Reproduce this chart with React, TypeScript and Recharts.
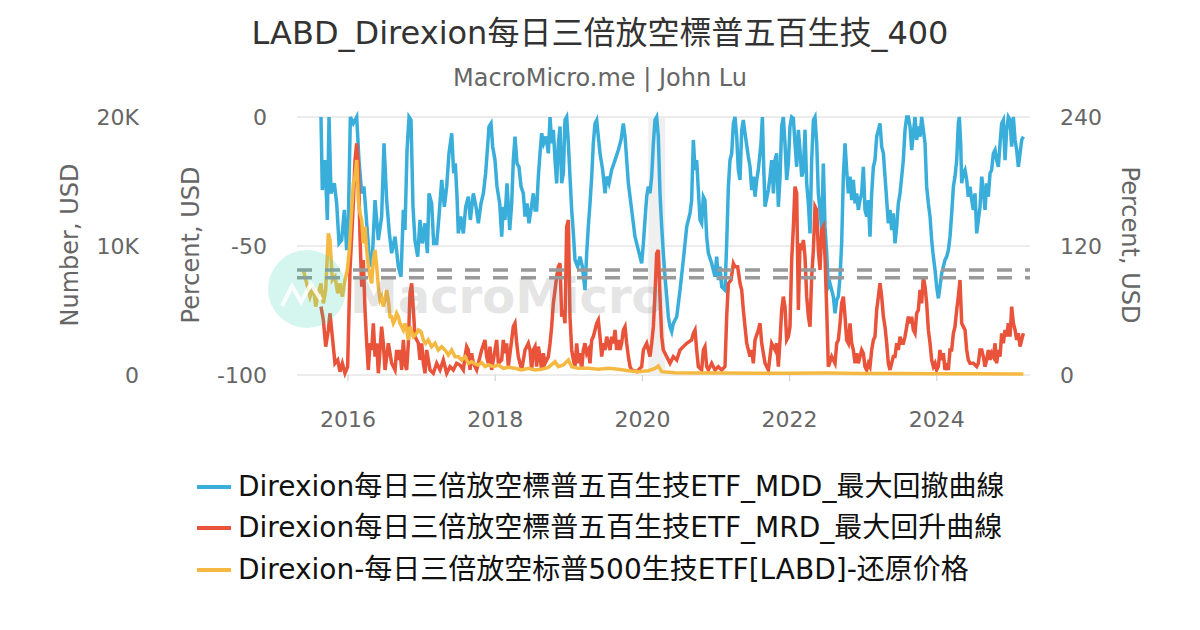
import { LineChart, Line, XAxis, YAxis, CartesianGrid, ReferenceLine, ReferenceArea } from "recharts"

const FONT = '"DejaVu Sans", "Noto Sans CJK TC", sans-serif'

const TITLE = "LABD_Direxion每日三倍放空標普五百生技_400"
const SUBTITLE = "MacroMicro.me | John Lu"

const seriesNames = [
  "Direxion每日三倍放空標普五百生技ETF_MDD_最大回撤曲線",
  "Direxion每日三倍放空標普五百生技ETF_MRD_最大回升曲線",
  "Direxion-每日三倍放空标普500生技ETF[LABD]-还原价格",
]
const seriesColors = ["#3aaedb", "#e8533a", "#f5b942"]

const yearTicks = [2016, 2018, 2020, 2022, 2024]
const pctTicks = [-100, -50, 0]
const numberTicks = [0, 10000, 20000]
const rightTicks = [0, 120, 240]
const thresholds = [-59.3, -62.3]
const recession = [2020.08, 2020.31]

// axis ids: left axes are stacked in id order, "l1" next to the plot
const PCT = "l1"
const NUM = "l2"
const RIGHT = "r1"

// [year, value] — max drawdown, %
const mddPoints: [number, number][] = [
  [2015.633, 0], [2015.651, -28.3], [2015.688, -16.7], [2015.719, -39.9], [2015.742, 0], [2015.769, -29.6],
  [2015.814, -25.7], [2015.846, -33.5], [2015.878, -49.0], [2015.914, -47.7], [2015.95, -36.0], [2015.982, -51.6],
  [2016.005, -39.9], [2016.032, 0], [2016.072, -2.5], [2016.118, 0], [2016.149, -16.7], [2016.186, -29.6],
  [2016.217, -27.0], [2016.254, -41.2], [2016.299, -58.0], [2016.331, -54.1], [2016.367, -32.2], [2016.412, -47.7],
  [2016.457, -38.6], [2016.489, -10.2], [2016.525, -32.2], [2016.562, -45.1], [2016.593, -52.8], [2016.639, -46.4],
  [2016.684, -58.0], [2016.72, -61.9], [2016.752, -36.0], [2016.774, -43.8], [2016.802, -12.8], [2016.829, 0],
  [2016.856, -1.2], [2016.883, -34.8], [2016.91, -48.0], [2016.947, -54.1], [2016.978, -39.9], [2017.01, -49.0],
  [2017.046, -41.2], [2017.078, -52.8], [2017.101, -29.6], [2017.137, -33.5], [2017.164, -49.0], [2017.205, -49.0],
  [2017.236, -38.6], [2017.273, -24.4], [2017.309, -34.8], [2017.341, -27.0], [2017.372, -14.1], [2017.409, -6.3],
  [2017.436, -21.8], [2017.458, -18.0], [2017.481, -30.9], [2017.499, -45.1], [2017.531, -38.6], [2017.567, -45.1],
  [2017.599, -34.8], [2017.635, -30.9], [2017.662, -39.9], [2017.703, -29.6], [2017.739, -34.8], [2017.771, -41.2],
  [2017.807, -33.5], [2017.839, -29.6], [2017.87, -21.8], [2017.893, -12.8], [2017.916, -3.7], [2017.943, -2.5],
  [2017.966, -11.5], [2017.997, -16.7], [2018.024, -27.0], [2018.061, -33.5], [2018.088, -46.4], [2018.11, -34.8],
  [2018.133, -39.9], [2018.16, -25.7], [2018.197, -43.8], [2018.224, -33.5], [2018.246, -16.7], [2018.269, -7.6],
  [2018.296, -18.0], [2018.323, -19.3], [2018.351, -27.0], [2018.382, -29.6], [2018.405, -38.6], [2018.432, -33.5],
  [2018.459, -41.2], [2018.486, -36.0], [2018.518, -29.6], [2018.541, -36.0], [2018.563, -36.0], [2018.586, -23.1],
  [2018.609, -14.1], [2018.631, -6.3], [2018.658, -10.2], [2018.69, -7.6], [2018.722, -14.1], [2018.745, 0],
  [2018.767, -10.2], [2018.79, -5.0], [2018.813, -16.7], [2018.835, -25.7], [2018.858, -10.2], [2018.881, -3.7],
  [2018.903, -25.7], [2018.926, -21.8], [2018.948, -1.2], [2018.971, 0], [2018.994, -10.2], [2019.016, -23.1],
  [2019.039, -36.0], [2019.062, -45.1], [2019.084, -55.4], [2019.12, -58.0], [2019.152, -54.1], [2019.184, -58.0],
  [2019.22, -67.1], [2019.243, -52.8], [2019.265, -42.5], [2019.288, -33.5], [2019.311, -23.1], [2019.333, -10.2],
  [2019.356, -2.5], [2019.379, -1.2], [2019.401, -7.6], [2019.424, -14.1], [2019.46, -20.5], [2019.492, -29.6],
  [2019.515, -23.1], [2019.546, -25.7], [2019.582, -20.5], [2019.628, -16.7], [2019.673, -12.8], [2019.709, -8.9],
  [2019.741, -2.5], [2019.764, -7.6], [2019.809, -25.7], [2019.854, -36.0], [2019.899, -46.4], [2019.945, -51.6],
  [2019.99, -56.7], [2020.013, -49.0], [2020.035, -39.9], [2020.058, -30.9], [2020.081, -27.0], [2020.103, -29.6],
  [2020.126, -23.1], [2020.149, -10.2], [2020.171, -1.2], [2020.194, 0], [2020.216, -7.6], [2020.239, -29.6],
  [2020.262, -42.5], [2020.284, -52.8], [2020.307, -61.9], [2020.33, -69.6], [2020.352, -77.4], [2020.375, -81.3],
  [2020.398, -83.2], [2020.42, -80.0], [2020.466, -77.4], [2020.511, -67.1], [2020.556, -55.4], [2020.602, -42.5],
  [2020.647, -37.3], [2020.669, -32.2], [2020.692, -8.9], [2020.715, -20.5], [2020.737, -16.7], [2020.76, -28.3],
  [2020.783, -39.9], [2020.805, -41.2], [2020.828, -30.9], [2020.85, -32.2], [2020.873, -46.4], [2020.896, -52.8],
  [2020.941, -56.7], [2020.986, -61.9], [2021.009, -54.1], [2021.032, -63.2], [2021.054, -58.0], [2021.077, -65.8],
  [2021.122, -67.1], [2021.145, -49.0], [2021.168, -27.0], [2021.19, -16.7], [2021.213, -14.1], [2021.236, -2.5],
  [2021.258, 0], [2021.281, -7.6], [2021.303, -20.5], [2021.326, -24.4], [2021.349, -5.0], [2021.371, -1.2],
  [2021.394, -6.3], [2021.439, -15.4], [2021.462, -19.3], [2021.485, -28.3], [2021.507, -23.1], [2021.53, -30.9],
  [2021.553, -24.4], [2021.575, -20.5], [2021.611, -10.2], [2021.63, 0], [2021.648, -19.3], [2021.666, -34.8],
  [2021.711, -28.3], [2021.734, -23.1], [2021.756, -16.7], [2021.78, -29.6], [2021.802, -16.7], [2021.824, -14.1],
  [2021.847, -34.8], [2021.87, -23.1], [2021.892, -3.7], [2021.915, 0], [2021.937, -10.2], [2021.96, -24.4],
  [2021.983, -18.0], [2022.005, -3.7], [2022.028, 0], [2022.051, -0.5], [2022.073, -10.2], [2022.096, -19.3],
  [2022.119, -5.0], [2022.141, -12.8], [2022.164, -23.1], [2022.187, -20.5], [2022.209, -5.0], [2022.232, -25.7],
  [2022.255, -33.5], [2022.277, -45.1], [2022.3, -16.7], [2022.323, -1.2], [2022.345, 0], [2022.368, -10.2],
  [2022.39, -29.6], [2022.413, -36.0], [2022.436, -43.8], [2022.458, -18.0], [2022.481, -42.5], [2022.504, -52.8],
  [2022.526, -65.8], [2022.549, -64.5], [2022.572, -67.1], [2022.594, -69.6], [2022.617, -76.1], [2022.64, -70.9],
  [2022.662, -69.6], [2022.685, -61.9], [2022.707, -49.0], [2022.73, -23.1], [2022.753, -10.2], [2022.775, -20.5],
  [2022.798, -29.6], [2022.821, -23.1], [2022.843, -32.2], [2022.866, -24.4], [2022.889, -33.5], [2022.911, -29.6],
  [2022.934, -36.0], [2022.956, -32.2], [2022.979, -29.6], [2023.002, -19.3], [2023.024, -36.0], [2023.047, -38.6],
  [2023.07, -32.2], [2023.092, -46.4], [2023.115, -29.6], [2023.138, -19.3], [2023.16, -16.7], [2023.183, -7.6],
  [2023.206, -5.0], [2023.228, -2.5], [2023.251, -11.5], [2023.274, -14.1], [2023.296, -23.1], [2023.319, -32.2],
  [2023.341, -41.2], [2023.364, -36.0], [2023.387, -43.8], [2023.409, -37.3], [2023.432, -49.0], [2023.455, -42.5],
  [2023.477, -33.5], [2023.5, -29.6], [2023.523, -23.1], [2023.545, -16.7], [2023.568, -5.0], [2023.591, 0],
  [2023.613, 0], [2023.636, -3.7], [2023.659, -12.8], [2023.681, -6.3], [2023.704, 0], [2023.726, -8.9],
  [2023.749, -3.7], [2023.772, -7.6], [2023.794, 0], [2023.817, -5.0], [2023.84, -10.2], [2023.862, -27.0],
  [2023.885, -33.5], [2023.908, -38.6], [2023.93, -47.7], [2023.953, -54.1], [2023.976, -59.3], [2023.998, -65.8],
  [2024.021, -70.3], [2024.043, -65.8], [2024.066, -60.6], [2024.089, -58.0], [2024.111, -55.4], [2024.134, -54.1],
  [2024.157, -51.6], [2024.179, -46.4], [2024.202, -37.5], [2024.225, -27.0], [2024.247, -23.1], [2024.27, -16.7],
  [2024.292, -2.5], [2024.306, 0], [2024.324, -10.2], [2024.338, -25.7], [2024.36, -21.8], [2024.383, -20.5],
  [2024.406, -24.4], [2024.428, -30.9], [2024.451, -27.0], [2024.474, -32.2], [2024.496, -36.0], [2024.519, -29.6],
  [2024.542, -45.1], [2024.564, -39.9], [2024.587, -34.8], [2024.61, -23.1], [2024.632, -28.3], [2024.655, -36.0],
  [2024.677, -25.7], [2024.7, -30.9], [2024.723, -21.8], [2024.745, -20.5], [2024.768, -14.1], [2024.791, -12.8],
  [2024.813, -16.7], [2024.836, -19.3], [2024.859, -10.2], [2024.881, -2.5], [2024.904, -1.2], [2024.927, -16.7],
  [2024.949, -5.0], [2024.972, 0], [2024.995, -1.2], [2025.017, -11.5], [2025.04, 0], [2025.063, -8.9],
  [2025.085, -12.8], [2025.108, -19.3], [2025.131, -14.1], [2025.153, -8.9], [2025.176, -7.6],
]

// [year, value] — max run-up, %
const mrdPoints: [number, number][] = [
  [2015.633, 63.6], [2015.665, 51.2], [2015.697, 26.4], [2015.733, 41.9], [2015.755, 57.4], [2015.787, 35.7],
  [2015.823, 10.9], [2015.86, 14.0], [2015.891, 3.1], [2015.923, 10.9], [2015.959, 1.6], [2015.995, 7.8],
  [2016.027, 97.7], [2016.05, 128.7], [2016.072, 159.7], [2016.095, 200.0], [2016.118, 215.5], [2016.14, 196.9],
  [2016.163, 128.7], [2016.186, 82.2], [2016.208, 107.0], [2016.231, 60.5], [2016.254, 29.5], [2016.276, 4.7],
  [2016.299, 29.5], [2016.322, 23.3], [2016.344, 48.1], [2016.367, 17.1], [2016.39, 29.5], [2016.412, 1.6],
  [2016.435, 23.3], [2016.457, 45.0], [2016.48, 29.5], [2016.503, 4.7], [2016.548, 29.5], [2016.593, 10.9],
  [2016.639, 4.7], [2016.661, 23.3], [2016.684, 14.0], [2016.707, 23.3], [2016.729, 4.7], [2016.752, 32.6],
  [2016.774, 10.9], [2016.797, 4.7], [2016.82, 29.5], [2016.842, 76.0], [2016.865, 85.3], [2016.888, 60.5],
  [2016.91, 35.7], [2016.956, 29.5], [2016.978, 14.0], [2017.001, 29.5], [2017.024, 10.9], [2017.046, 1.6],
  [2017.069, 23.3], [2017.114, 4.7], [2017.159, 1.6], [2017.205, 10.9], [2017.25, 4.7], [2017.295, 14.0],
  [2017.341, 1.6], [2017.386, 7.8], [2017.431, 4.7], [2017.476, 10.9], [2017.522, 9.3], [2017.567, 4.7],
  [2017.59, 17.1], [2017.612, 26.4], [2017.635, 23.3], [2017.658, 4.7], [2017.68, 20.2], [2017.703, 10.9],
  [2017.748, 4.7], [2017.793, 17.1], [2017.816, 23.3], [2017.861, 32.6], [2017.884, 17.1], [2017.907, 10.9],
  [2017.929, 26.4], [2017.952, 4.7], [2017.997, 23.3], [2018.02, 32.6], [2018.043, 10.9], [2018.088, 14.0],
  [2018.11, 32.6], [2018.133, 20.2], [2018.156, 29.5], [2018.178, 7.8], [2018.224, 32.6], [2018.246, 45.0],
  [2018.269, 48.1], [2018.292, 29.5], [2018.314, 17.1], [2018.36, 4.7], [2018.405, 23.3], [2018.45, 29.5],
  [2018.473, 23.3], [2018.495, 4.7], [2018.518, 23.3], [2018.541, 26.4], [2018.563, 7.8], [2018.586, 26.4],
  [2018.609, 17.1], [2018.631, 4.7], [2018.654, 20.2], [2018.677, 10.9], [2018.722, 17.1], [2018.745, 29.5],
  [2018.767, 45.0], [2018.79, 66.7], [2018.813, 79.1], [2018.835, 91.5], [2018.858, 100.8], [2018.881, 103.9],
  [2018.903, 54.3], [2018.926, 60.5], [2018.948, 48.1], [2018.971, 138.0], [2018.994, 144.2], [2019.016, 54.3],
  [2019.039, 23.3], [2019.062, 14.0], [2019.084, 7.8], [2019.107, 29.5], [2019.13, 10.9], [2019.152, 20.2],
  [2019.175, 4.7], [2019.197, 23.3], [2019.22, 29.5], [2019.243, 20.2], [2019.265, 23.3], [2019.288, 10.9],
  [2019.311, 32.6], [2019.333, 35.7], [2019.356, 41.9], [2019.379, 48.1], [2019.401, 51.2], [2019.424, 35.7],
  [2019.447, 17.1], [2019.469, 29.5], [2019.492, 23.3], [2019.515, 35.7], [2019.537, 29.5], [2019.56, 23.3],
  [2019.582, 35.7], [2019.605, 29.5], [2019.628, 41.9], [2019.65, 23.3], [2019.673, 32.6], [2019.696, 23.3],
  [2019.718, 29.5], [2019.741, 41.9], [2019.764, 45.0], [2019.786, 29.5], [2019.809, 17.1], [2019.832, 7.8],
  [2019.854, 4.7], [2019.922, 3.1], [2019.99, 7.8], [2020.013, 23.3], [2020.058, 29.5], [2020.103, 17.1],
  [2020.126, 29.5], [2020.149, 45.0], [2020.171, 76.0], [2020.194, 113.0], [2020.216, 116.3], [2020.239, 72.9],
  [2020.262, 35.7], [2020.284, 23.3], [2020.33, 17.1], [2020.375, 10.9], [2020.42, 17.1], [2020.466, 14.0],
  [2020.511, 23.3], [2020.556, 26.4], [2020.602, 29.5], [2020.669, 32.6], [2020.692, 38.8], [2020.715, 41.9],
  [2020.737, 23.3], [2020.76, 7.8], [2020.805, 4.7], [2020.828, 23.3], [2020.85, 26.4], [2020.873, 7.8],
  [2020.896, 4.7], [2020.941, 10.9], [2020.986, 4.7], [2021.032, 7.8], [2021.077, 4.7], [2021.122, 7.8],
  [2021.145, 54.3], [2021.168, 85.3], [2021.204, 88.4], [2021.236, 103.9], [2021.258, 100.8], [2021.294, 100.8],
  [2021.326, 85.3], [2021.349, 79.1], [2021.371, 60.5], [2021.394, 45.0], [2021.417, 29.5], [2021.462, 17.1],
  [2021.485, 23.3], [2021.507, 10.9], [2021.53, 32.6], [2021.575, 41.9], [2021.598, 48.1], [2021.621, 29.5],
  [2021.666, 10.9], [2021.711, 4.7], [2021.756, 29.5], [2021.802, 23.3], [2021.824, 29.5], [2021.847, 7.8],
  [2021.87, 32.6], [2021.892, 60.5], [2021.915, 72.9], [2021.937, 63.6], [2021.96, 32.6], [2021.983, 35.7],
  [2022.005, 45.0], [2022.028, 107.0], [2022.051, 138.0], [2022.073, 175.2], [2022.096, 169.0], [2022.119, 60.5],
  [2022.141, 122.5], [2022.164, 116.3], [2022.187, 125.6], [2022.209, 110.1], [2022.232, 72.9], [2022.255, 54.3],
  [2022.277, 45.0], [2022.3, 91.5], [2022.323, 116.3], [2022.345, 156.6], [2022.368, 153.5], [2022.39, 116.3],
  [2022.413, 97.7], [2022.436, 134.9], [2022.458, 138.0], [2022.481, 110.1], [2022.504, 60.5], [2022.526, 7.8],
  [2022.572, 17.1], [2022.617, 10.9], [2022.64, 29.5], [2022.662, 32.6], [2022.685, 48.1], [2022.707, 66.7],
  [2022.73, 72.9], [2022.753, 54.3], [2022.775, 32.6], [2022.798, 29.5], [2022.821, 48.1], [2022.843, 29.5],
  [2022.866, 23.3], [2022.889, 10.9], [2022.911, 20.2], [2022.934, 10.9], [2022.956, 17.1], [2022.979, 23.3],
  [2023.002, 20.2], [2023.024, 7.8], [2023.047, 4.7], [2023.07, 10.9], [2023.092, 7.8], [2023.115, 23.3],
  [2023.138, 32.6], [2023.16, 35.7], [2023.183, 60.5], [2023.206, 72.9], [2023.228, 85.3], [2023.251, 72.9],
  [2023.274, 54.3], [2023.296, 45.0], [2023.319, 29.5], [2023.341, 10.9], [2023.364, 4.7], [2023.409, 17.1],
  [2023.432, 17.1], [2023.455, 29.5], [2023.477, 23.3], [2023.5, 35.7], [2023.523, 29.5], [2023.545, 29.5],
  [2023.568, 35.7], [2023.591, 45.0], [2023.613, 54.3], [2023.636, 48.1], [2023.659, 54.3], [2023.681, 41.9],
  [2023.704, 38.8], [2023.726, 57.4], [2023.749, 60.5], [2023.772, 79.1], [2023.794, 66.7], [2023.817, 91.5],
  [2023.84, 82.2], [2023.862, 66.7], [2023.885, 41.9], [2023.908, 29.5], [2023.93, 14.0], [2023.953, 7.8],
  [2023.976, 10.9], [2023.998, 4.7], [2024.021, 7.8], [2024.043, 23.3], [2024.066, 14.0], [2024.089, 20.2],
  [2024.111, 4.7], [2024.134, 10.9], [2024.157, 4.7], [2024.179, 23.3], [2024.202, 23.3], [2024.225, 38.8],
  [2024.247, 45.0], [2024.27, 60.5], [2024.292, 72.9], [2024.315, 88.4], [2024.338, 48.1], [2024.36, 45.0],
  [2024.383, 41.9], [2024.406, 23.3], [2024.428, 14.0], [2024.451, 10.9], [2024.496, 10.9], [2024.542, 7.8],
  [2024.564, 10.9], [2024.587, 23.3], [2024.61, 23.3], [2024.632, 17.1], [2024.655, 7.8], [2024.677, 14.0],
  [2024.7, 23.3], [2024.723, 14.0], [2024.745, 20.2], [2024.768, 17.1], [2024.791, 29.5], [2024.813, 10.9],
  [2024.836, 23.3], [2024.859, 17.1], [2024.881, 38.8], [2024.904, 29.5], [2024.927, 41.9], [2024.949, 35.7],
  [2024.972, 48.1], [2024.995, 35.7], [2025.017, 63.6], [2025.04, 48.1], [2025.063, 41.9], [2025.085, 32.6],
  [2025.108, 38.8], [2025.131, 26.4], [2025.153, 32.6], [2025.176, 38.8],
]

// [year, value] — adjusted price, USD
const pricePoints: [number, number][] = [
  [2015.393, 8140], [2015.438, 7106], [2015.484, 6072], [2015.529, 6848], [2015.561, 5297], [2015.597, 6331],
  [2015.633, 7106], [2015.665, 5556], [2015.697, 6589], [2015.733, 10982], [2015.755, 10465], [2015.787, 7364],
  [2015.823, 7623], [2015.86, 6331], [2015.891, 7106], [2015.923, 6072], [2015.959, 7364], [2015.991, 8140],
  [2016.018, 9690], [2016.05, 12791], [2016.072, 14858], [2016.095, 15375], [2016.118, 16667], [2016.14, 13566],
  [2016.163, 12532], [2016.186, 12016], [2016.208, 10207], [2016.231, 11499], [2016.254, 9690], [2016.276, 8398],
  [2016.299, 7623], [2016.322, 7106], [2016.344, 8915], [2016.367, 9690], [2016.39, 8398], [2016.412, 6848],
  [2016.435, 5814], [2016.457, 6072], [2016.48, 5297], [2016.503, 5814], [2016.525, 6589], [2016.548, 5814],
  [2016.571, 4522], [2016.593, 4522], [2016.616, 4005], [2016.639, 4264], [2016.661, 4780], [2016.684, 4522],
  [2016.707, 4005], [2016.729, 3747], [2016.752, 3488], [2016.774, 4005], [2016.797, 3488], [2016.82, 2713],
  [2016.842, 3747], [2016.888, 2972], [2016.933, 3230], [2016.956, 3488], [2016.992, 3359], [2017.024, 2713],
  [2017.055, 2455], [2017.091, 2713], [2017.137, 2196], [2017.182, 2455], [2017.227, 1938], [2017.273, 2196],
  [2017.318, 1938], [2017.363, 1550], [2017.409, 1938], [2017.454, 1421], [2017.499, 1421], [2017.544, 1163],
  [2017.59, 1421], [2017.635, 904], [2017.68, 1034], [2017.726, 853], [2017.771, 775], [2017.816, 956],
  [2017.861, 646], [2017.907, 775], [2017.975, 646], [2018.043, 775], [2018.11, 517], [2018.178, 594],
  [2018.269, 517], [2018.36, 388], [2018.45, 517], [2018.541, 388], [2018.631, 439], [2018.722, 594],
  [2018.813, 1034], [2018.858, 646], [2018.926, 775], [2018.994, 1163], [2019.039, 646], [2019.13, 517],
  [2019.265, 517], [2019.401, 439], [2019.537, 517], [2019.673, 439], [2019.809, 336], [2019.945, 258],
  [2020.081, 336], [2020.171, 517], [2020.216, 698], [2020.262, 258], [2020.443, 181], [2020.715, 155],
  [2021.077, 155], [2021.53, 129], [2022.0, 140], [2022.5, 150], [2023.0, 120], [2023.5, 110],
  [2024.0, 95], [2024.5, 90], [2025.176, 85],
]

const toRows = (pts: [number, number][]) => pts.map(([t, v]) => ({ t, v }))
const mddData = toRows(mddPoints)
const mrdData = toRows(mrdPoints)
const priceData = toRows(pricePoints)

const tickStyle = { fill: "#666", fontSize: 22, fontFamily: FONT }

function AxisTitle({ x, y, angle, text }: { x: number; y: number; angle: number; text: string }) {
  return (
    <div
      style={{
        position: "absolute",
        left: x,
        top: y,
        transform: `translate(-50%, -50%) rotate(${angle}deg)`,
        whiteSpace: "nowrap",
        fontSize: 24,
        lineHeight: "28px",
        color: "#666",
      }}
    >
      {text}
    </div>
  )
}

export default function App() {
  const legendTops = [487, 528, 570]
  return (
    <div
      style={{
        position: "absolute",
        left: 0,
        top: 0,
        width: 1200,
        height: 630,
        background: "#fff",
        fontFamily: FONT,
        overflow: "hidden",
      }}
    >
      <div style={{ position: "absolute", top: 15, width: 1200, textAlign: "center", fontSize: 32, lineHeight: "36px", color: "#333" }}>
        {TITLE}
      </div>
      <div style={{ position: "absolute", top: 64, width: 1200, textAlign: "center", fontSize: 24, lineHeight: "28px", color: "#666" }}>
        {SUBTITLE}
      </div>

      <div style={{ position: "absolute", left: 0, top: 0 }}>
        <LineChart width={1200} height={630} margin={{ top: 117, right: 40, bottom: 215, left: 40 }}>
          <CartesianGrid vertical={false} stroke="#e6e6e6" strokeWidth={1.5} yAxisId={PCT} />
          <XAxis
            dataKey="t"
            type="number"
            domain={[2015.307, 2025.266]}
            ticks={yearTicks}
            interval={0}
            allowDataOverflow
            height={40}
            axisLine={false}
            tickLine={{ stroke: "#cccccc" }}
            tickSize={6}
            tickMargin={30}
            tick={tickStyle}
          />
          <YAxis
            yAxisId={PCT}
            orientation="left"
            width={122}
            domain={[-100, 0]}
            ticks={pctTicks}
            interval={0}
            axisLine={false}
            tickLine={false}
            tickSize={0}
            tickMargin={30}
            tick={tickStyle}
          />
          <YAxis
            yAxisId={NUM}
            orientation="left"
            width={135}
            domain={[0, 20000]}
            ticks={numberTicks}
            interval={0}
            axisLine={false}
            tickLine={false}
            tickSize={0}
            tickMargin={36}
            tick={tickStyle}
            tickFormatter={(v: number) => (v === 0 ? "0" : `${v / 1000}K`)}
          />
          <YAxis
            yAxisId={RIGHT}
            orientation="right"
            width={130}
            domain={[0, 240]}
            ticks={rightTicks}
            interval={0}
            axisLine={false}
            tickLine={false}
            tickSize={0}
            tickMargin={30}
            tick={tickStyle}
          />
          <ReferenceArea
            yAxisId={PCT}
            x1={recession[0]}
            x2={recession[1]}
            fill="#efefef"
            fillOpacity={1}
            stroke="none"
          />
          <Line
            data={mddData}
            dataKey="v"
            yAxisId={PCT}
            type="linear"
            stroke={seriesColors[0]}
            strokeWidth={3.5}
            dot={false}
            isAnimationActive={false}
          />
          <Line
            data={mrdData}
            dataKey="v"
            yAxisId={RIGHT}
            type="linear"
            stroke={seriesColors[1]}
            strokeWidth={3.5}
            dot={false}
            isAnimationActive={false}
          />
          <Line
            data={priceData}
            dataKey="v"
            yAxisId={NUM}
            type="linear"
            stroke={seriesColors[2]}
            strokeWidth={3.5}
            dot={false}
            isAnimationActive={false}
          />
          {thresholds.map((y) => (
            <ReferenceLine key={y} yAxisId={PCT} y={y} stroke="#999" strokeWidth={3.5} strokeDasharray="15 13" />
          ))}
        </LineChart>
      </div>

      {/* watermark overlay */}
      <svg width={1200} height={630} style={{ position: "absolute", left: 0, top: 0, pointerEvents: "none" }}>
        <circle cx={307} cy={289} r={39} fill="#2ed3a8" opacity={0.2} />
        <polyline
          points="282,306 292,286 301,302 311,284 321,300"
          fill="none"
          stroke="#fff"
          strokeWidth={4}
          opacity={0.85}
        />
        <text x={350} y={313} fontSize={48} fontWeight="bold" fontFamily={FONT} fill="#808080" opacity={0.2}>
          MacroMicro
        </text>
      </svg>

      <AxisTitle x={70} y={245} angle={-90} text="Number, USD" />
      <AxisTitle x={191} y={245} angle={-90} text="Percent, USD" />
      <AxisTitle x={1130} y={245} angle={90} text="Percent, USD" />

      {seriesNames.map((name, i) => (
        <div
          key={name}
          style={{
            position: "absolute",
            left: 197,
            top: legendTops[i] - 20,
            height: 40,
            display: "flex",
            alignItems: "center",
            whiteSpace: "nowrap",
          }}
        >
          <div style={{ width: 34, height: 4, background: seriesColors[i], marginRight: 7 }} />
          <span style={{ fontSize: 28, lineHeight: "40px", color: "#111" }}>{name}</span>
        </div>
      ))}
    </div>
  )
}
